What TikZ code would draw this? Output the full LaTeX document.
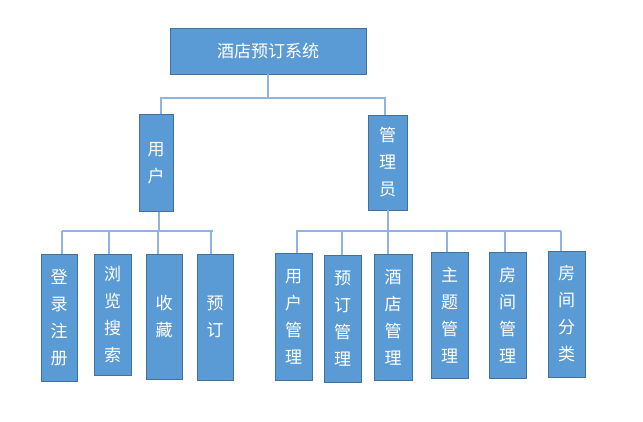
\documentclass[tikz,border=0pt]{standalone}
\usepackage{fontspec}
\newfontfamily\cjk{Noto Sans CJK SC}
\definecolor{boxfill}{HTML}{5B9BD5}
\definecolor{boxedge}{HTML}{41719C}
\definecolor{linkc}{HTML}{8DB4E2}
\tikzset{
  boxnode/.style={draw=boxedge, line width=0.8pt, fill=boxfill, text=white, inner sep=0pt,
    align=center, font=\cjk\fontsize{17}{27}\selectfont},
  linkline/.style={draw=linkc, line width=1.6pt}
}
\begin{document}
\begin{tikzpicture}[x=1pt,y=-1pt]
\useasboundingbox (0,0) rectangle (643,422);
% boxes
\node[boxnode, minimum width=196pt, minimum height=46pt, font=\cjk\fontsize{17}{20}\selectfont] (root) at (268,51) {酒店预订系统};
\node[boxnode, minimum width=34pt, minimum height=97pt] (user) at (156,163) {用\\户};
\node[boxnode, minimum width=39pt, minimum height=95pt] (admin) at (387.5,162.5) {管\\理\\员};
% user leaves
\node[boxnode, minimum width=36pt, minimum height=127pt] (u1) at (59,317.5) {登\\录\\注\\册};
\node[boxnode, minimum width=37pt, minimum height=121pt] (u2) at (112.5,314.5) {浏\\览\\搜\\索};
\node[boxnode, minimum width=36pt, minimum height=125pt] (u3) at (164,316.5) {收\\藏};
\node[boxnode, minimum width=36pt, minimum height=126pt] (u4) at (215,317) {预\\订};
% admin leaves
\node[boxnode, minimum width=37pt, minimum height=127pt] (a1) at (293.5,316.5) {用\\户\\管\\理};
\node[boxnode, minimum width=37pt, minimum height=127pt] (a2) at (342.5,318.5) {预\\订\\管\\理};
\node[boxnode, minimum width=38pt, minimum height=126pt] (a3) at (393,317) {酒\\店\\管\\理};
\node[boxnode, minimum width=37pt, minimum height=126pt] (a4) at (449.5,315) {主\\题\\管\\理};
\node[boxnode, minimum width=37pt, minimum height=126pt] (a5) at (507.5,315) {房\\间\\管\\理};
\node[boxnode, minimum width=37pt, minimum height=126pt] (a6) at (566.5,314) {房\\间\\分\\类};
% junction coordinates
\coordinate (jt) at (268,98);
\coordinate (jtL) at (161,98);
\coordinate (jtR) at (385,98);
\coordinate (ju) at (159,231);
\coordinate (juL) at (62,231);
\coordinate (juR) at (213,231);
\coordinate (ja) at (388,231);
\coordinate (jaL) at (296,231);
\coordinate (jaR) at (561,231);
% top level
\draw[linkline] (root.south -| jt) -- (jt);
\draw[linkline] (jtL |- user.north) -- (jtL) -- (jtR) -- (jtR |- admin.north);
% user level
\draw[linkline] (ju |- user.south) -- (ju);
\draw[linkline] (juL) -- (juR);
\draw[linkline] (juL) -- (juL |- u1.north);
\draw[linkline] (109,231) -- (109,0 |- u2.north);
\draw[linkline] (158,231) -- (158,0 |- u3.north);
\draw[linkline] (211,231) -- (211,0 |- u4.north);
% admin level
\draw[linkline] (ja |- admin.south) -- (ja);
\draw[linkline] (jaL) -- (jaR);
\draw[linkline] (297,231) -- (297,0 |- a1.north);
\draw[linkline] (342,231) -- (342,0 |- a2.north);
\draw[linkline] (388,231) -- (388,0 |- a3.north);
\draw[linkline] (447,231) -- (447,0 |- a4.north);
\draw[linkline] (505,231) -- (505,0 |- a5.north);
\draw[linkline] (jaR) -- (jaR |- a6.north);
\end{tikzpicture}
\end{document}
